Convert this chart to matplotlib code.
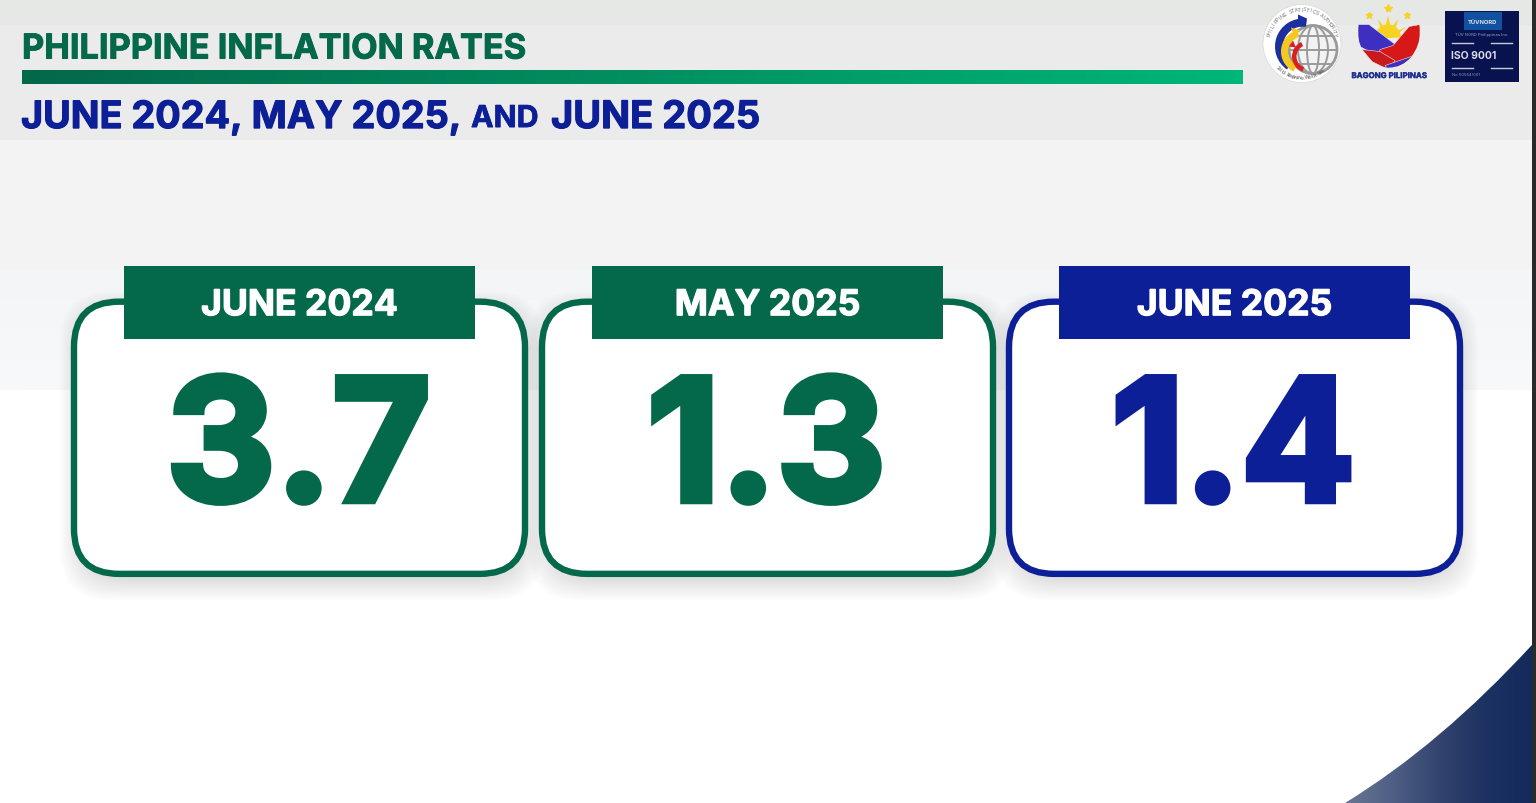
import numpy as np
import matplotlib
matplotlib.use("Agg")
import matplotlib.pyplot as plt
import matplotlib.patheffects as pe
from matplotlib.path import Path
from matplotlib.patches import FancyBboxPatch, Rectangle, Circle, Polygon, Wedge, Ellipse, PathPatch
from matplotlib.colors import LinearSegmentedColormap

months = ["JUNE 2024", "MAY 2025", "JUNE 2025"]
rates = [3.7, 1.3, 1.4]
card_colors = ["#04684a", "#04684a", "#0c1f96"]

GREEN = "#04684a"
BLUE = "#0c1f96"
plt.rcParams['font.family'] = ['Inter', 'DejaVu Sans']

# 8.035 so that the canvas does not round down to 802 px
fig = plt.figure(figsize=(15.36, 8.035), dpi=100)
ax = fig.add_axes([0, 0, 1, 1])
ax.axis("off")


def heavy(txt, width, col):
    # the source font is heavier than Inter Bold
    txt.set_path_effects([pe.withStroke(linewidth=width, foreground=col, joinstyle="miter")])
    return txt


def reset_view():
    ax.set_xlim(0, 1536)
    ax.set_ylim(803, 0)


def arc_text(s, cx, cy, r, start, end, col, size, bottom=False):
    angles = np.linspace(start, end, len(s))
    for ch, a in zip(s, angles):
        x = cx + r * np.cos(np.radians(a))
        y = cy - r * np.sin(np.radians(a))
        rot = a - 90 if not bottom else a + 90
        ax.text(x, y, ch, fontsize=size, color=col, rotation=rot, ha="center", va="center",
                rotation_mode="anchor", zorder=6)


reset_view()

# background bands
ax.add_patch(Rectangle((0, 0), 1536, 25, color="#e6e8e5", lw=0, zorder=0))
ax.add_patch(Rectangle((0, 25), 1536, 115, color="#ebebeb", lw=0, zorder=0))
ax.add_patch(Rectangle((0, 140), 1536, 130, color="#f3f3f3", lw=0, zorder=0))
band = LinearSegmentedColormap.from_list("band", ["#f3f5f6", "#f8f9fa"])
ax.imshow(np.linspace(0, 1, 64).reshape(-1, 1), extent=(0, 1536, 390, 270), origin="upper",
          cmap=band, aspect="auto", zorder=0)
ax.add_patch(Rectangle((0, 390), 1536, 413, color="#ffffff", lw=0, zorder=0))

# header
heavy(ax.text(22, 50, "PHILIPPINE INFLATION RATES", color=GREEN, fontsize=24.7,
              fontweight="bold", va="center", ha="left"), 0.7, GREEN)
cm = LinearSegmentedColormap.from_list("bar", ["#04684a", "#00b67a"])
ax.imshow(np.linspace(0, 1, 256).reshape(1, -1), extent=(22, 1243, 84, 71),
          cmap=cm, aspect="auto", zorder=1)

subtitle_y = 118.5
heavy(ax.text(21, subtitle_y, "JUNE 2024, MAY 2025,", color=BLUE, fontsize=27.2,
              fontweight="bold", va="center", ha="left"), 0.8, BLUE)
heavy(ax.text(471, subtitle_y + 1, "AND", color=BLUE, fontsize=21.8,
              fontweight="bold", va="center", ha="left"), 0.5, BLUE)
heavy(ax.text(551, subtitle_y, "JUNE 2025", color=BLUE, fontsize=27.4,
              fontweight="bold", va="center", ha="left"), 0.8, BLUE)

# cards
card_left = [74, 542, 1009]
for left, month, rate, col in zip(card_left, months, rates, card_colors):
    w, h = 451, 272
    top = 302
    # soft shadow, falls down and to the right
    for grow in range(22, 0, -2):
        ax.add_patch(FancyBboxPatch((left - grow + 8, top + 12 - grow), w + 2 * grow - 12, h + 2 * grow - 8,
                                    boxstyle="round,pad=0,rounding_size=50", fc="#000000",
                                    ec="none", alpha=0.010, zorder=2))
    ax.add_patch(FancyBboxPatch((left, top), w, h, boxstyle="round,pad=0,rounding_size=45",
                                fc="white", ec=col, lw=4.6, zorder=3))
    cx = left + w / 2
    ax.add_patch(Rectangle((cx - 175.5, 266), 351, 73, color=col, lw=0, zorder=4))
    heavy(ax.text(cx, 306, month, color="white", fontsize=25.6, fontweight="bold",
                  ha="center", va="center", zorder=5), 0.9, "white")
    heavy(ax.text(cx - 1, 439, f"{rate:.1f}", color=col, fontsize=122, fontweight="bold",
                  ha="center", va="center_baseline", zorder=5), 5, col)

# PSA logo
ax.add_patch(Circle((1302, 44), 39, fc="white", ec="#d8d8d8", lw=0.5, zorder=3))
ax.add_patch(Circle((1313, 50), 24, fc="#f2f2f2", ec="#9a9a9a", lw=2, zorder=4))
for half in (6, 15):
    ax.add_patch(Ellipse((1313, 50), half * 2, 48, fc="none", ec="#9a9a9a", lw=1.4, zorder=4))
for dy in (-14, 0, 14):
    half = np.sqrt(24 ** 2 - dy ** 2)
    ax.plot([1313 - half, 1313 + half], [50 + dy, 50 + dy], color="#9a9a9a", lw=1.4, zorder=4)
ax.add_patch(Wedge((1303, 47), 28, 125, 275, width=8, fc="#1b2f9e", lw=0, zorder=5))
ax.add_patch(Polygon([[1298, 15], [1307, 19], [1306, 27], [1298, 27]], fc="#1b2f9e", lw=0, zorder=5))
ax.add_patch(Wedge((1303, 52), 22, 115, 255, width=7, fc="#f4c81e", lw=0, zorder=6))
ax.add_patch(Polygon([[1291, 28], [1300, 31], [1294, 37]], fc="#f4c81e", lw=0, zorder=6))
ax.add_patch(Wedge((1308, 57), 16, 110, 245, width=4.5, fc="#d9201f", lw=0, zorder=7))
ax.add_patch(Polygon([[1293, 41], [1296, 48], [1289, 47]], fc="#d9201f", lw=0, zorder=7))
arc_text("PHILIPPINE STATISTICS AUTHORITY", 1302, 44, 34, 165, 15, "#777777", 3.8)
arc_text("Solid. Responsive. World-class.", 1302, 44, 34, 225, 310, "#555555", 3.4, bottom=True)

# Bagong Pilipinas logo
for tip_x, tip_y in [(1369, 27), (1378, 20), (1388, 16), (1398, 20), (1407, 27)]:
    ax.add_patch(Polygon([[tip_x, tip_y], [1383, 38], [1393, 38]], fc="#f7d21f", lw=0, zorder=3))
ax.add_patch(Wedge((1388, 38), 13, 180, 360, fc="#f7d21f", lw=0, zorder=3))
bowl_parts = [
    ([[1358, 25], [1369, 25], [1398, 47], [1402, 56], [1384, 60], [1358, 46]], "#3d2fc0"),
    ([[1420, 25], [1409, 27], [1393, 46], [1380, 50], [1378, 58], [1402, 70], [1420, 50]], "#d71818"),
    ([[1362, 50], [1380, 52], [1395, 61], [1388, 70], [1372, 62]], "#c8191c"),
    ([[1385, 66], [1414, 56], [1405, 70], [1390, 72]], "#3d2fc0"),
]
clip_bowl = Ellipse((1389, 32), 62, 72, transform=ax.transData, fc="none", ec="none")
ax.add_patch(clip_bowl)
for pts, c in bowl_parts:
    part = Polygon(pts, fc=c, ec="#ebebeb", lw=0.4, zorder=5)
    ax.add_patch(part)
    part.set_clip_path(clip_bowl)
ax.plot([1388], [8], marker="*", ms=6, color="#f7d21f", lw=0, zorder=5)
ax.plot([1369, 1407], [15, 15], marker="*", ms=5, color="#f7d21f", lw=0, zorder=5)
heavy(ax.text(1389, 76, "BAGONG PILIPINAS", fontsize=5.7, fontweight="bold", color="#1e2f8f",
              ha="center", va="center", zorder=6), 0.3, "#1e2f8f")

# ISO badge
ax.add_patch(Rectangle((1445, 11), 74, 71, color="#07124f", lw=0, zorder=3))
ax.add_patch(Rectangle((1464, 12), 38, 18, color="#11519f", lw=0, zorder=4))
ax.text(1482, 22, "TÜVNORD", fontsize=4.2, fontweight="bold", color="#d8e4f0", ha="center", va="center", zorder=5)
ax.text(1482, 35, "TÜV NORD Philippines Inc.", fontsize=3, color="#9aa6c8", ha="center", va="center", zorder=5)
ax.text(1451, 56, "ISO 9001", fontsize=7.5, fontweight="bold", color="#d8dbe6", ha="left", va="center", zorder=5)
for y in (43, 68):
    ax.plot([1452, 1473], [y, y], color="#c6cbdc", lw=1, zorder=5)
    ax.plot([1491, 1512], [y, y], color="#c6cbdc", lw=1, zorder=5)
ax.text(1452, 75, "No 50554/001", fontsize=3, color="#8f99bb", ha="left", va="center", zorder=5)

# bottom right swoosh
grad = LinearSegmentedColormap.from_list("swoosh", ["#6a7693", "#4f5f86", "#33456f", "#1c3262", "#132a5b"])
im = ax.imshow(np.linspace(0, 1, 256).reshape(1, -1), extent=(1345, 1532, 803, 645),
               cmap=grad, aspect="auto", zorder=2)
swoosh = Path([(1345, 803), (1440, 745), (1532, 645), (1532, 803), (1345, 803)],
              [Path.MOVETO, Path.CURVE3, Path.CURVE3, Path.LINETO, Path.CLOSEPOLY])
clip = PathPatch(swoosh, transform=ax.transData, fc="none", ec="none")
ax.add_patch(clip)
im.set_clip_path(clip)

# dark strip on the right edge
ax.add_patch(Rectangle((1532, 0), 4, 803, color="#2a2a2a", lw=0, zorder=8))

reset_view()
fig.savefig("out.png", dpi=100)
